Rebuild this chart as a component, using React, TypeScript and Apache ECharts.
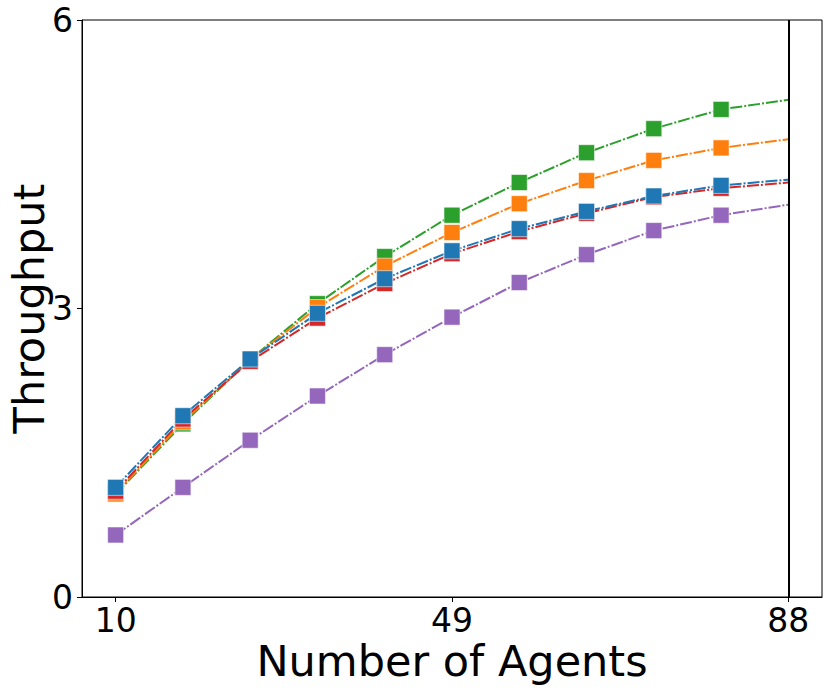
import React, { useEffect, useRef } from "react";
import * as echarts from "echarts";

const agents = [10, 17.8, 25.6, 33.4, 41.2, 49, 56.8, 64.6, 72.4, 80.2, 88];
const greenVals = [1.07, 1.8, 2.47, 3.05, 3.54, 3.97, 4.31, 4.62, 4.87, 5.07, 5.17];
const orangeVals = [1.08, 1.82, 2.47, 3.01, 3.44, 3.79, 4.09, 4.33, 4.54, 4.67, 4.76];
const redVals = [1.1, 1.85, 2.45, 2.9, 3.26, 3.57, 3.8, 3.99, 4.16, 4.25, 4.31];
const purpleVals = [0.645, 1.14, 1.63, 2.09, 2.52, 2.91, 3.27, 3.56, 3.81, 3.97, 4.08];
const blueVals = [1.14, 1.885, 2.475, 2.95, 3.31, 3.6, 3.83, 4.01, 4.17, 4.28, 4.34];
const xTicks = [10, 49, 88];
const yTicks = [0, 3, 6];
const verticalMarker = 88;

const FONT = "DejaVu Sans";

function makeSeries(name: string, vals: number[], color: string, withMark = false) {
  const data = vals.map((v, i) => {
    const item: any = { value: [agents[i], v] };
    if (i === vals.length - 1) item.symbol = "none";
    return item;
  });
  const s: any = {
    name,
    type: "line",
    data,
    symbol: "rect",
    symbolSize: 16,
    showAllSymbol: true,
    color,
    itemStyle: { color, borderColor: "rgba(255,255,255,0.55)", borderWidth: 1 },
    lineStyle: { color, width: 2, type: [12, 2, 2, 2] },
    emphasis: { disabled: true },
  };
  if (withMark) {
    s.markLine = {
      silent: true,
      symbol: "none",
      label: { show: false },
      lineStyle: { color: "#000", width: 2, type: "solid" },
      data: [{ xAxis: verticalMarker }],
    };
  }
  return s;
}

export default function App() {
  const ref = useRef<HTMLDivElement>(null);
  useEffect(() => {
    if (!ref.current) return;
    const chart = echarts.init(ref.current, null, { renderer: "svg" });
    chart.setOption({
      animation: false,
      backgroundColor: "#fff",
      textStyle: { fontFamily: FONT },
      grid: {
        left: 82,
        right: 9,
        top: 20,
        bottom: 93,
        containLabel: false,
        outerBoundsMode: "none",
        show: true,
        borderColor: "#000",
        borderWidth: 1,
      },
      xAxis: {
        type: "value",
        min: 6.1,
        max: 91.9,
        name: "Number of Agents",
        nameLocation: "middle",
        nameGap: 44,
        nameMoveOverlap: false,
        nameTextStyle: { fontSize: 43, lineHeight: 40, color: "#000", fontFamily: FONT },
        axisLine: { show: true, lineStyle: { color: "#000", width: 1 } },
        axisTick: { show: true, inside: false, length: 5, customValues: xTicks, lineStyle: { color: "#000" } },
        axisLabel: { customValues: xTicks, fontSize: 33, lineHeight: 30, color: "#000", margin: 8, fontFamily: FONT },
        splitLine: { show: false },
      },
      yAxis: {
        type: "value",
        min: 0,
        max: 6,
        interval: 3,
        name: "Throughput",
        nameLocation: "middle",
        nameRotate: 90,
        nameGap: 32,
        nameMoveOverlap: false,
        nameTextStyle: { fontSize: 43, color: "#000", fontFamily: FONT },
        axisLine: { show: true, lineStyle: { color: "#000", width: 1 } },
        axisTick: { show: true, inside: false, length: 5, lineStyle: { color: "#000" } },
        axisLabel: { fontSize: 33, color: "#000", margin: 9, fontFamily: FONT, customValues: yTicks },
        splitLine: { show: false },
      },
      series: [
        makeSeries("green", greenVals, "#2ca02c", true),
        makeSeries("orange", orangeVals, "#ff7f0e"),
        makeSeries("red", redVals, "#d62728"),
        makeSeries("purple", purpleVals, "#9467bd"),
        makeSeries("blue", blueVals, "#1f77b4"),
      ],
    });
    return () => chart.dispose();
  }, []);
  return <div ref={ref} style={{ position: "fixed", left: 0, top: 0, width: 831, height: 690 }} />;
}
